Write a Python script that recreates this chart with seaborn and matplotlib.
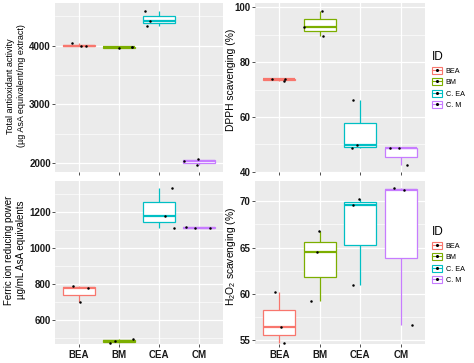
import matplotlib
matplotlib.use("Agg")

import matplotlib.pyplot as plt
from matplotlib.patches import Patch
from matplotlib.lines import Line2D
import seaborn as sns
import numpy as np
import pandas as pd

# categories
groups = ["BEA", "BM", "CEA", "CM"]
ids = ["BEA", "BM", "C. EA", "C. M"]
colors = ["#F8766D", "#7CAE00", "#00BFC4", "#C77CFF"]

# three replicates per extract
tac = [[3985, 3995, 4040], [3950, 3972, 3978], [4330, 4425, 4580], [1970, 2035, 2070]]
dpph = [[73.2, 73.7, 73.9], [89.7, 92.9, 98.8], [48.5, 49.6, 66.2], [42.5, 48.5, 48.8]]
frap = [[702, 780, 786], [471, 482, 492], [1110, 1176, 1332], [1108, 1112, 1116]]
h2o2 = [[54.7, 56.4, 60.2], [59.2, 64.5, 66.8], [61.0, 69.6, 70.3], [56.6, 71.2, 71.4]]

plt.rcParams["font.family"] = ["Liberation Sans", "DejaVu Sans"]
plt.rcParams["mathtext.fontset"] = "custom"
plt.rcParams["mathtext.rm"] = "Liberation Sans"
plt.rcParams["mathtext.it"] = "Liberation Sans:italic"
plt.rcParams["mathtext.bf"] = "Liberation Sans:bold"

np.random.seed(3)

W, H = 474, 363
fig = plt.figure(figsize=(W / 100, H / 100), dpi=100)


def px_axes(x0, y0, x1, y1):
    return fig.add_axes([x0 / W, 1 - y1 / H, (x1 - x0) / W, (y1 - y0) / H])


def make_df(vals):
    return pd.DataFrame({
        "group": np.repeat(groups, 3),
        "ID": np.repeat(ids, 3),
        "value": np.concatenate(vals),
    })


def panel(ax, vals, ylim, major, minor, show_x):
    df = make_df(vals)
    ax.set_facecolor("#EBEBEB")
    sns.boxplot(data=df, x="group", y="value", hue="ID", order=groups,
                hue_order=ids, palette=colors, fill=False, dodge=False,
                width=0.8, linewidth=0.9, showfliers=False, legend=False,
                patch_artist=True, medianprops={"linewidth": 1.6},
                capprops={"visible": False}, ax=ax)
    for p in ax.patches:
        p.set_facecolor("white")
    sns.stripplot(data=df, x="group", y="value", order=groups, color="black",
                  size=1.8, jitter=0.4, zorder=3, ax=ax)

    ax.set_xlim(-0.6, 3.6)
    ax.set_ylim(*ylim)
    ax.set_yticks(major)
    ax.set_yticks(minor, minor=True)
    ax.set_xticks(range(len(groups)))
    if show_x:
        ax.set_xticklabels(groups, fontsize=8.5, fontweight="bold")
    else:
        ax.set_xticklabels([])
    for lbl in ax.get_yticklabels():
        lbl.set_fontweight("bold")
    ax.grid(True, which="major", color="white", linewidth=0.9)
    ax.grid(True, which="minor", color="white", linewidth=0.45)
    ax.xaxis.grid(True, which="major", color="white", linewidth=0.9)
    ax.set_axisbelow(True)
    for s in ax.spines.values():
        s.set_visible(False)
    ax.tick_params(axis="both", which="major", length=2.2, width=0.6,
                   color="#333333", labelcolor="#1a1a1a", labelsize=7, pad=0.8)
    ax.tick_params(axis="x", which="major", pad=2)
    ax.tick_params(which="minor", length=0)
    ax.set_xlabel("")
    ax.set_ylabel("")


def add_legend(ax, top_px):
    handles = [
        (Patch(facecolor="white", edgecolor=c, linewidth=0.8),
         Line2D([], [], color=c, linewidth=0.8),
         Line2D([], [], color="black", marker="o", markersize=1.2, linestyle=""))
        for c in colors
    ]
    ax.legend(handles, ids, title="ID", loc="upper left",
              bbox_to_anchor=(432 / W, 1 - top_px / H),
              bbox_transform=fig.transFigure, frameon=False, fontsize=5.2,
              title_fontsize=8.5, handlelength=1.4, handleheight=1.1,
              labelspacing=0.5, handletextpad=0.5, borderpad=0,
              borderaxespad=0, alignment="left")


ax1 = px_axes(55, 3, 223, 172)
ax2 = px_axes(255, 3, 425, 172)
ax3 = px_axes(55, 181, 223, 344)
ax4 = px_axes(255, 181, 425, 344)

panel(ax1, tac, (1847, 4724), [2000, 3000, 4000], [2500, 3500, 4500], False)
panel(ax2, dpph, (39.9, 101.6), [40, 60, 80, 100], [50, 70, 90], False)
panel(ax3, frap, (467, 1370), [600, 800, 1000, 1200], [500, 700, 900, 1100, 1300], True)
panel(ax4, h2o2, (54.57, 72.2), [55, 60, 65, 70], [57.5, 62.5, 67.5], True)

add_legend(ax2, 51)
add_legend(ax4, 226)

fig.text(16 / W, 1 - 86 / H,
         "Total antioxidant activity\n(µg AsA equivalent/mg extract)",
         rotation=90, ha="center", va="center", fontsize=6.5, multialignment="center")
fig.text(231 / W, 1 - 80 / H, "DPPH scavenging (%)",
         rotation=90, ha="center", va="center", fontsize=7.4)
fig.text(15 / W, 1 - 250 / H,
         "Ferric ion reducing power\nµg/mL AsA equivalents",
         rotation=90, ha="center", va="center", fontsize=7, multialignment="center")
fig.text(231 / W, 1 - 256 / H, "H$_2$O$_2$ scavenging (%)",
         rotation=90, ha="center", va="center", fontsize=7.4)

fig.savefig("out.png", dpi=100)
